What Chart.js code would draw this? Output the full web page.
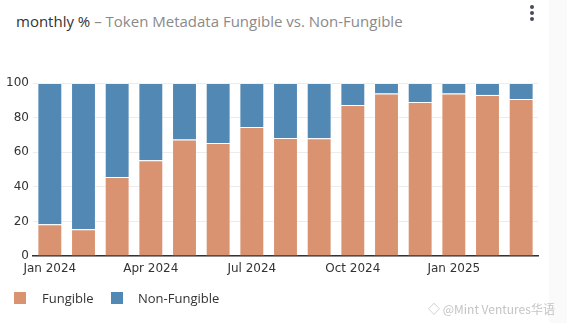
<!DOCTYPE html>
<html>
<head>
<meta charset="utf-8">
<script src="https://cdn.jsdelivr.net/npm/chart.js@4/dist/chart.umd.min.js"></script>
<style>
  html, body { margin:0; padding:0; background:#fff; }
  body { width:567px; height:323px; position:relative; overflow:hidden; font-family:"Open Sans", sans-serif; }
  #title { position:absolute; left:16px; top:11px; font-size:15px; line-height:20px; white-space:nowrap; }
  #title .a { color:#333; }
  #title .b { color:#8a8a8a; }
  #menu { position:absolute; left:530px; top:5px; width:4px; }
  #menu i { display:block; width:4px; height:4px; border-radius:2px; background:#4a4a5a; margin-bottom:2px; }
  #wrap { position:absolute; left:0; top:60px; width:567px; height:230px; }
  #legend { position:absolute; left:0; top:290px; width:400px; height:16px; font-size:13px; color:#333; }
  #legend .box { position:absolute; top:2px; width:12px; height:12px; }
  #legend .txt { position:absolute; top:-1px; line-height:18px; white-space:nowrap; }
  #wm { position:absolute; left:428px; top:300px; font-size:12px; color:#c4c4c4; white-space:nowrap; font-family:"Noto Sans CJK SC","Noto Sans",sans-serif; }
  #edge { position:absolute; left:549px; top:0; width:18px; height:323px; background:#fafafa; }
</style>
</head>
<body>
<div id="edge"></div>
<div id="title"><span class="a">monthly %</span><span class="b"> – Token Metadata Fungible vs. Non-Fungible</span></div>
<div id="menu"><i></i><i></i><i></i></div>
<div id="wrap"><canvas id="c" width="567" height="230"></canvas></div>
<div id="legend"></div>
<div id="wm">◇ @Mint Ventures华语</div>
<script>
const months = ["Jan 2024","Feb 2024","Mar 2024","Apr 2024","May 2024","Jun 2024","Jul 2024","Aug 2024","Sep 2024","Oct 2024","Nov 2024","Dec 2024","Jan 2025","Feb 2025","Mar 2025"];
const fungible    = [18.3, 15.4, 45.7, 55.3, 67.4, 65.3, 74.6, 68.2, 68.0, 87.3, 94.0, 89.0, 94.0, 93.1, 90.8];
const nonFungible = [81.7, 84.6, 54.3, 44.7, 32.6, 34.7, 25.4, 31.8, 32.0, 12.7,  6.0, 11.0,  6.0,  6.9,  9.2];
const seriesNames = ["Fungible", "Non-Fungible"];
const seriesColors = ["#DA9371", "#5288B4"];
const yTicks = [0, 20, 40, 60, 80, 100];

const tickFont = { family: "DejaVu Sans", size: 12 };

new Chart(document.getElementById('c'), {
  type: 'bar',
  data: {
    labels: months,
    datasets: [
      { label: seriesNames[0], data: fungible, backgroundColor: seriesColors[0], borderColor: 'rgba(255,255,255,0.3)', borderWidth: 1, barPercentage: 0.74, categoryPercentage: 1 },
      { label: seriesNames[1], data: nonFungible, backgroundColor: seriesColors[1], borderColor: 'rgba(255,255,255,0.3)', borderWidth: 1, barPercentage: 0.74, categoryPercentage: 1 }
    ]
  },
  options: {
    responsive: false,
    animation: false,
    layout: { padding: { top: 23, right: 29, left: 0, bottom: 0 } },
    plugins: { legend: { display: false }, tooltip: { enabled: false } },
    scales: {
      x: {
        stacked: true,
        grid: { display: false, drawTicks: false },
        border: { display: true, color: '#333', width: 1.5 },
        ticks: {
          autoSkip: false, maxRotation: 0, padding: 6, color: '#333', font: tickFont,
          callback: function(v, i) { return i % 3 === 0 ? months[i] : ''; }
        },
        afterFit: function(s) { s.height = 34; }
      },
      y: {
        stacked: true, min: 0, max: 100,
        grid: { color: '#ececec', drawTicks: false },
        border: { display: false },
        afterBuildTicks: function(s) { s.ticks = yTicks.map(v => ({ value: v })); },
        ticks: { padding: 4, color: '#333', font: tickFont },
        afterFit: function(s) { s.width = 33; }
      }
    }
  }
});

const leg = document.getElementById('legend');
const legX = [[14, 42], [111, 138]];
seriesNames.forEach((n, i) => {
  const b = document.createElement('div'); b.className = 'box'; b.style.left = legX[i][0] + 'px'; b.style.background = seriesColors[i];
  const t = document.createElement('div'); t.className = 'txt'; t.style.left = legX[i][1] + 'px'; t.textContent = n;
  leg.appendChild(b); leg.appendChild(t);
});
</script>
</body>
</html>
